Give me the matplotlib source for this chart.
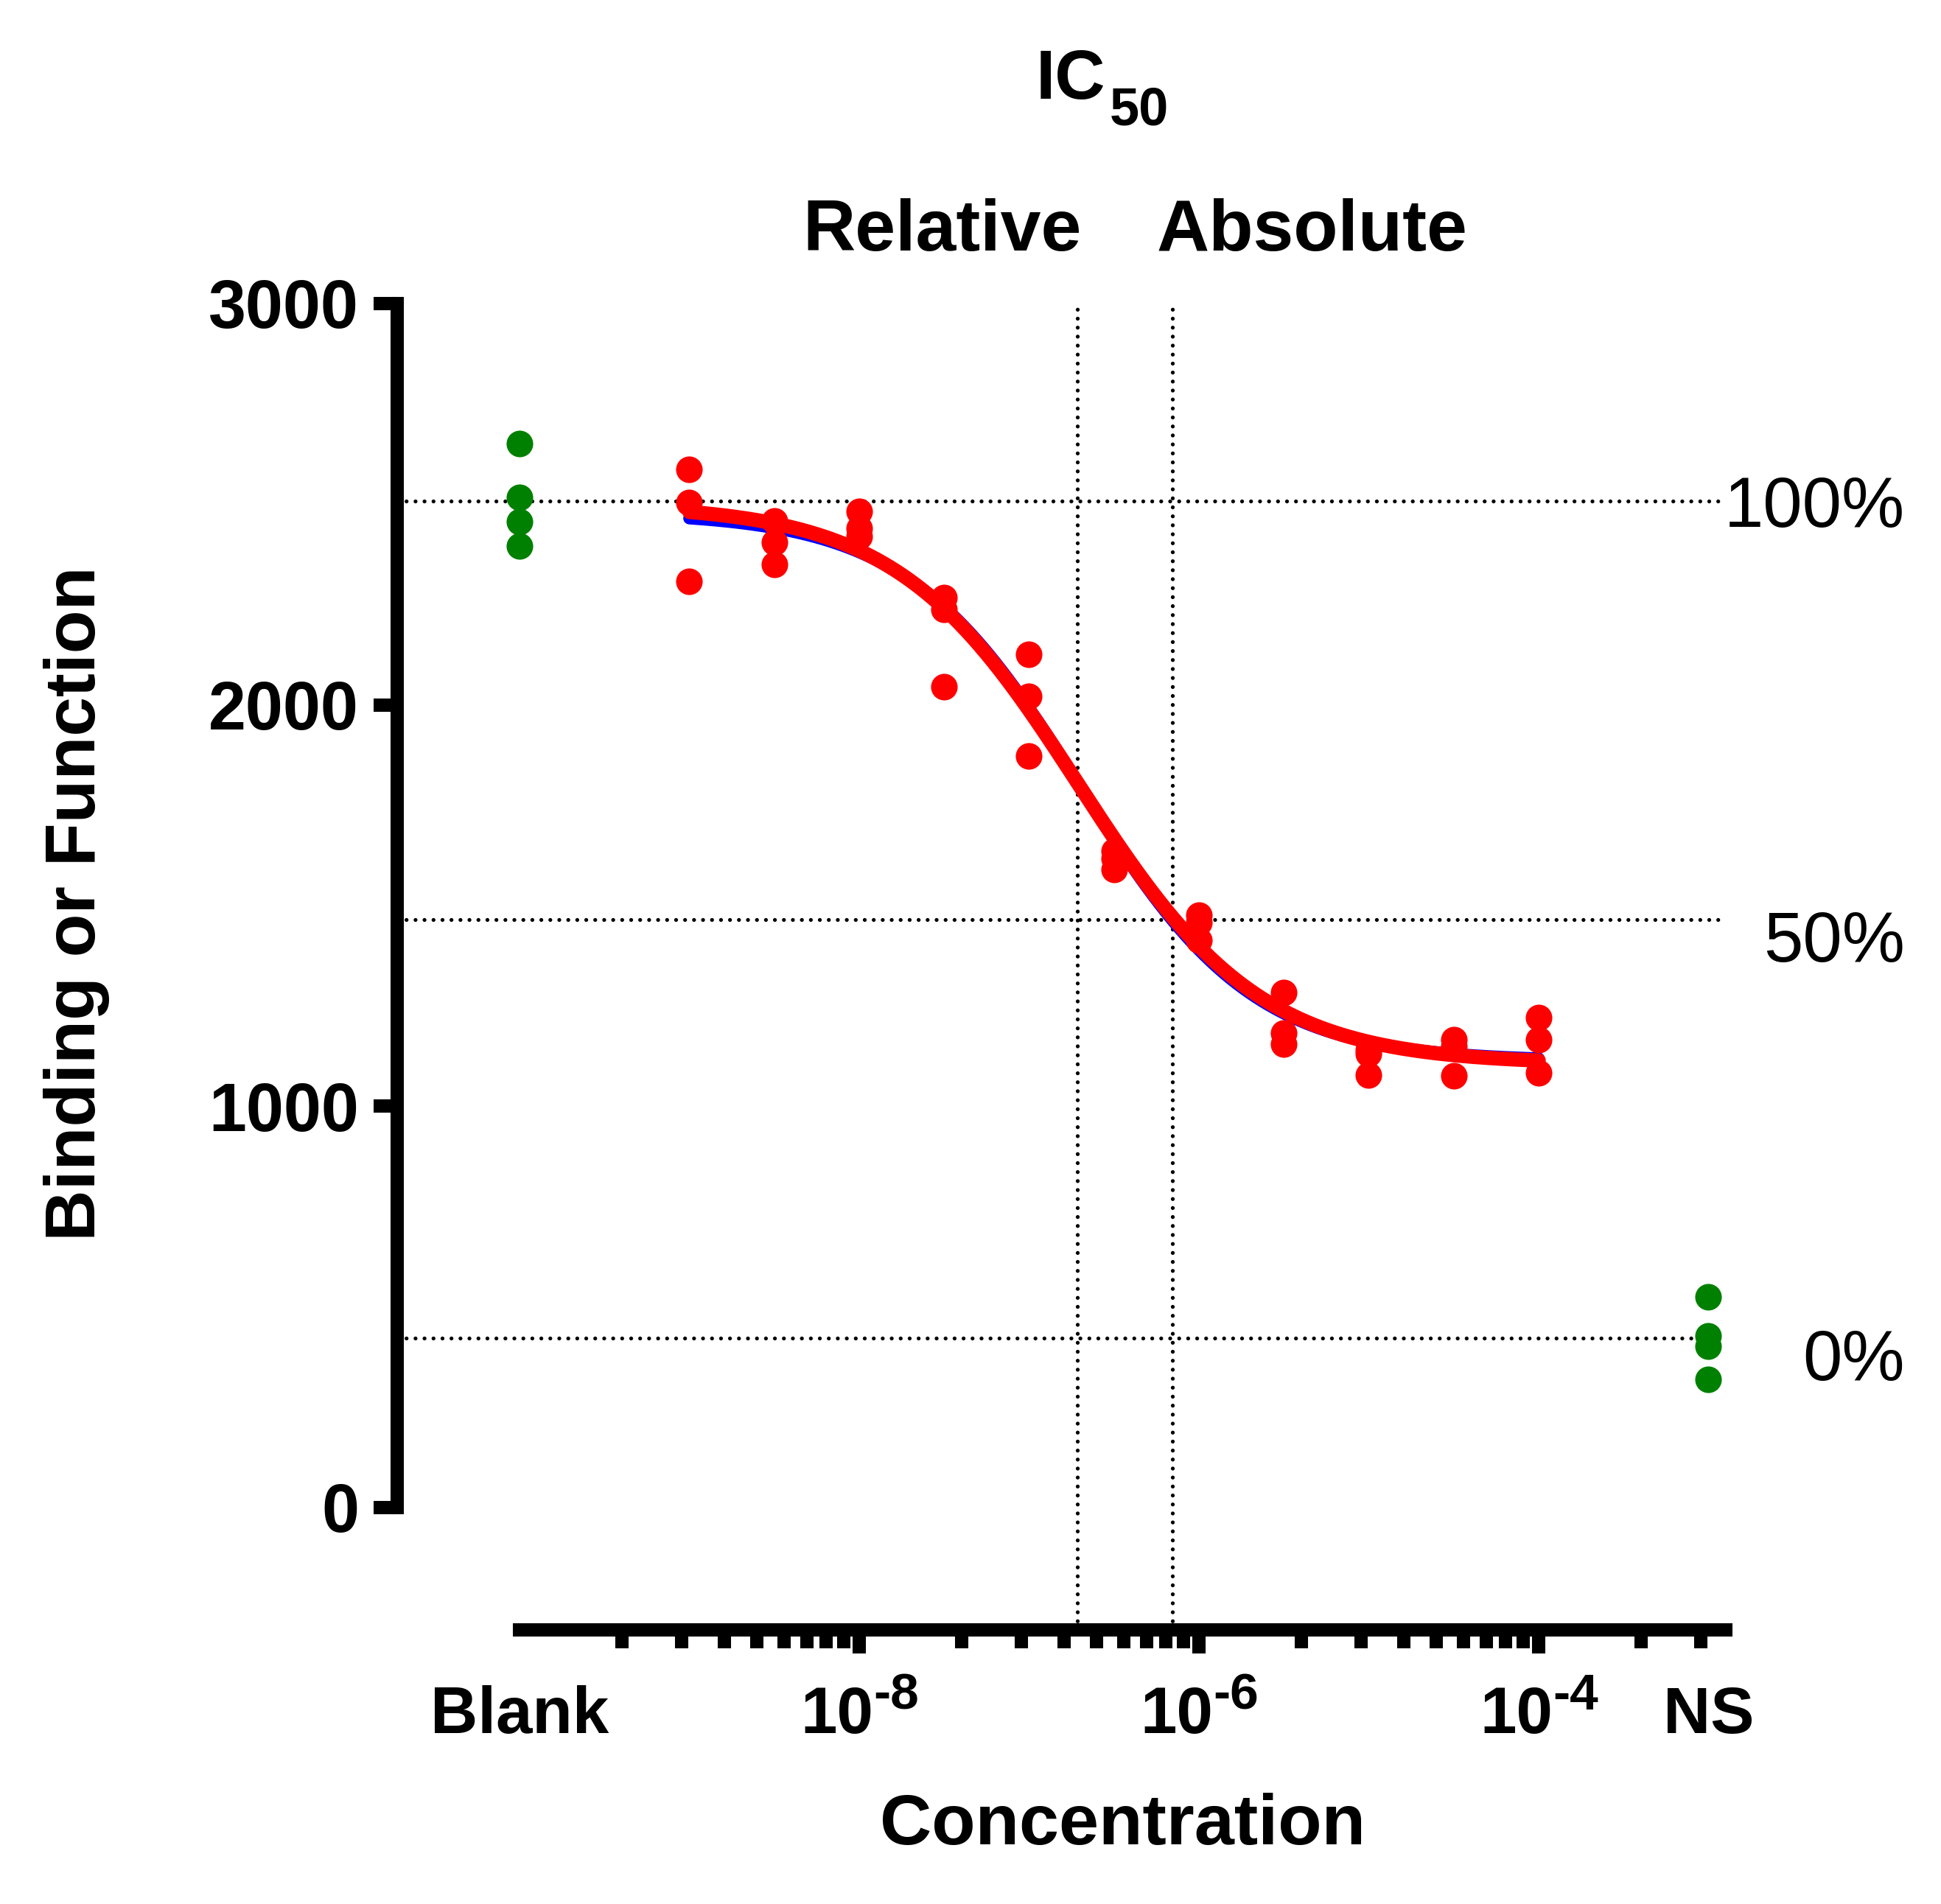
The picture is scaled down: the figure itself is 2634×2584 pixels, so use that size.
import numpy as np
import matplotlib
matplotlib.use("Agg")
import matplotlib.pyplot as plt
from matplotlib.transforms import blended_transform_factory, ScaledTranslation

plt.rcParams['font.family'] = ['Liberation Sans', 'DejaVu Sans']

# data
conc = [1e-9, 3.16e-9, 1e-8, 3.16e-8, 1e-7, 3.16e-7, 1e-6, 3.16e-6, 1e-5, 3.16e-5, 1e-4]
rep1 = [2587, 2458, 2482, 2268, 2126, 1636, 1476, 1284, 1140, 1165, 1220]
rep2 = [2505, 2405, 2440, 2238, 2021, 1618, 1458, 1182, 1130, 1150, 1166]
rep3 = [2308, 2350, 2420, 2045, 1873, 1590, 1414, 1154, 1078, 1075, 1083]

blank_x = 1e-10
blank_vals = [2651, 2517, 2457, 2396]
ns_x = 1e-3
ns_vals = [525, 428, 402, 320]

# horizontal reference lines (100%, 50%, 0%)
pct_levels = [2508, 1465, 422]
pct_labels = ['100%', '50%', '0%']

# IC50 markers
ic50_relative = 1.92e-7
ic50_absolute = 6.98e-7

# fitted curve parameters (top, bottom, ic50, hill)
fit_red = (2500, 1105, 1.95e-7, 0.81)
fit_blue = (2480, 1112, 2.0e-7, 0.85)

# x tick labels
decades = [-8, -6, -4]


def four_pl(x, top, bottom, ic50, hill):
    return bottom + (top - bottom) / (1 + (x / ic50) ** hill)


W, H = 2634, 2584
fig = plt.figure(figsize=(W / 200, H / 200), dpi=200)
ax = fig.add_axes([538.5 / W, 1 - 2212 / H, (2342 - 538.5) / W, (2212 - 412) / H])

ybot = -305
xmin, xmax = 10 ** -10.7223, 10 ** -2.898
ax.set_xscale('log')
ax.set_xlim(xmin, xmax)
ax.set_ylim(ybot, 3000)

dotted = dict(color='black', lw=1.9, linestyle=(0, (0.01, 2.3)), dash_capstyle='round')
for lvl in pct_levels:
    ax.axhline(lvl, xmin=0, xmax=1, zorder=1, **dotted)
for xv in [ic50_relative, ic50_absolute]:
    ax.plot([xv, xv], [ybot, 3000], zorder=1, **dotted)

xc = np.logspace(-9, -4, 400)
ax.plot(xc, four_pl(xc, *fit_blue), color='blue', lw=6.0, solid_capstyle='round', zorder=2)
ax.plot(xc, four_pl(xc, *fit_red), color='red', lw=7.0, solid_capstyle='round', zorder=3)

for reps in [rep1, rep2, rep3]:
    ax.plot(conc, reps, 'o', color='red', ms=13, mec='none', zorder=4)
ax.plot([blank_x] * len(blank_vals), blank_vals, 'o', color='green', ms=13, mec='none', zorder=4, clip_on=False)
ax.plot([ns_x] * len(ns_vals), ns_vals, 'o', color='green', ms=13, mec='none', zorder=4, clip_on=False)

# spines
for s in ['top', 'right']:
    ax.spines[s].set_visible(False)
for s in ['left', 'bottom']:
    ax.spines[s].set_linewidth(6.5)
ax.spines['left'].set_bounds(0, 3000)
ax.spines['left'].set_capstyle('projecting')
ax.spines['bottom'].set_bounds(1e-10, xmax)

# y ticks
ax.set_yticks([0, 1000, 2000, 3000])
ax.set_yticklabels(['0', '1000', '2000', '3000'], fontsize=33, fontweight='bold')
ax.tick_params(axis='y', length=11.7, width=6.5, pad=6.8)

# x ticks: majors at decades, minors at k^2 steps
ax.set_xticks([10.0 ** d for d in decades])
ax.set_xticklabels([])
minor_x = [k ** 2 * 10.0 ** m for m in [-10, -8, -6, -4] for k in range(2, 10)]
minor_x = [v for v in minor_x if v < xmax]
ax.set_xticks(minor_x, minor=True)
ax.xaxis.set_minor_formatter(plt.NullFormatter())
ax.tick_params(axis='x', which='major', length=11.5, width=6.5)
ax.tick_params(axis='x', which='minor', length=9, width=6.5)

# x tick labels drawn by hand (hyphen exponent like the original)
xtr = blended_transform_factory(ax.transData, fig.transFigure)
base_y = 1 - 2352 / H
sup_y = 1 - 2320 / H
shift = ScaledTranslation(19 / 200, 0, fig.dpi_scale_trans)
for d in decades:
    ax.text(10.0 ** d, base_y, '10', transform=xtr + shift, ha='right', va='baseline',
            fontsize=32, fontweight='bold')
    ax.text(10.0 ** d, sup_y, '-%d' % abs(d), transform=xtr + shift, ha='left', va='baseline',
            fontsize=25, fontweight='bold')
ax.text(blank_x, base_y, 'Blank', transform=xtr, ha='center', va='baseline', fontsize=32, fontweight='bold')
ax.text(ns_x, base_y, 'NS', transform=xtr, ha='center', va='baseline', fontsize=32, fontweight='bold')

# percent labels on the right
for ypx, txt in zip([715, 1305, 1873], pct_labels):
    fig.text(2585 / W, 1 - ypx / H, txt, ha='right', va='baseline', fontsize=34.5)

# axis titles
fig.text(1524 / W, 1 - 2478 / H, 'Concentration', ha='center', va='center',
         fontsize=35, fontweight='bold')
fig.text(104 / W, 1 - 1226 / H, 'Binding or Function', ha='center', va='center',
         rotation=90, fontsize=34.7, fontweight='bold')

# IC50 header
fig.text(1500 / W, 1 - 134 / H, 'IC', ha='right', va='baseline', fontsize=34, fontweight='bold')
fig.text(1506 / W, 1 - 170 / H, '50', ha='left', va='baseline', fontsize=26, fontweight='bold')
fig.text(1468 / W, 1 - 340 / H, 'Relative', ha='right', va='baseline', fontsize=35.5, fontweight='bold')
fig.text(1570 / W, 1 - 340 / H, 'Absolute', ha='left', va='baseline', fontsize=35.5, fontweight='bold')

fig.savefig('out.png', dpi=200)
